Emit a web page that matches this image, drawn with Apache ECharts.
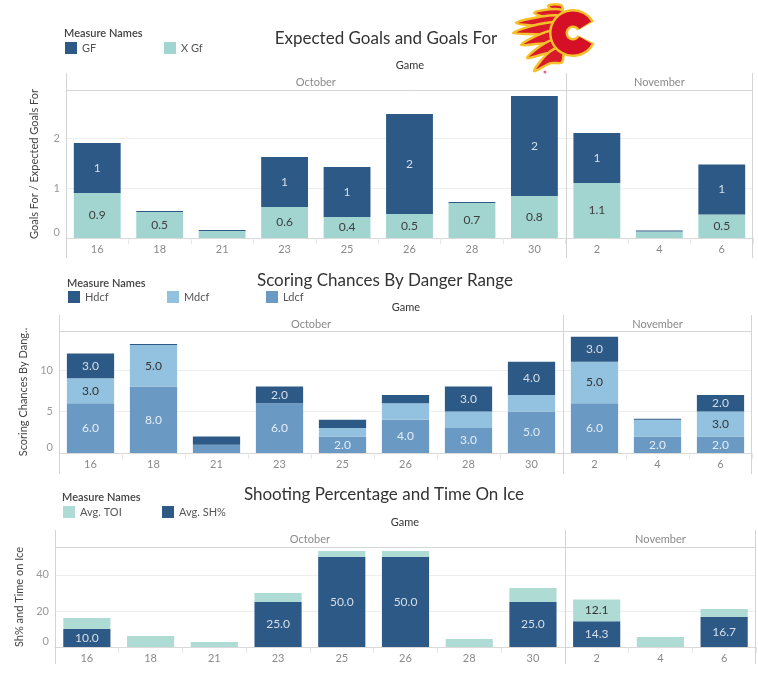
<!DOCTYPE html>
<html>
<head>
<meta charset="utf-8">
<script src="https://cdn.jsdelivr.net/npm/echarts@6/dist/echarts.min.js"></script>
<style>
  html, body { margin: 0; padding: 0; background: #fff; }
  #main { width: 758px; height: 700px; }
</style>
</head>
<body>
<div id="main"></div>
<script>
// games (day of month) and the month each belongs to
const games = ['16', '18', '21', '23', '25', '26', '28', '30', '2', '4', '6']
const months = ['October', 'November']
const gamesPerMonth = [8, 3]

// chart 1 - expected goals / goals for
const xGf = [0.9, 0.52, 0.14, 0.62, 0.42, 0.48, 0.7, 0.84, 1.1, 0.13, 0.47]
const gf = [1, 0, 0, 1, 1, 2, 0, 2, 1, 0, 1]

// chart 2 - scoring chances by danger range
const ldcf = [6, 8, 1, 6, 2, 4, 3, 5, 6, 2, 2]
const mdcf = [3, 5, 0, 0, 1, 2, 2, 2, 5, 2, 3]
const hdcf = [3, 0, 1, 2, 1, 1, 3, 4, 3, 0, 2]

// chart 3 - shooting % and time on ice
const avgSh = [10, 0, 0, 25, 50, 50, 0, 25, 14.3, 0, 16.7]
const avgToi = [6.1, 6.1, 2.8, 5, 3.3, 3.3, 4.4, 7.8, 12.1, 5.5, 4.4]

const FONT = 'Lato, "Open Sans", sans-serif'
const NAVY = '#2c5985'
const TEAL = '#a2d5d0'
const TEAL2 = '#aedcd4'
const MID = '#93c1e0'
const LOW = '#6a9ac4'
const LINE = '#d4d4d4'

// panel layout (pixels)
const panels = [
  { left: 66, right: 5, top: 90, height: 148, headTop: 73, foot: 258, max: 2.96, interval: 1,
    title: 'Expected Goals and Goals For', titleX: 386, titleY: 39, gameX: 410, gameY: 65,
    legendX: 64, legendY: 33, yName: 'Goals For / Expected Goals For', nameGap: 26 },
  { left: 59, right: 6, top: 331, height: 122, headTop: 315, foot: 474, max: 14.7, interval: 5,
    title: 'Scoring Chances By Danger Range', titleX: 385, titleY: 281, gameX: 406, gameY: 307,
    legendX: 67, legendY: 283, yName: 'Scoring Chances By Dang..', nameGap: 24 },
  { left: 55, right: 2, top: 547, height: 100, headTop: 530, foot: 664, max: 55.5, interval: 20,
    title: 'Shooting Percentage and Time On Ice', titleX: 384, titleY: 495, gameX: 405, gameY: 522,
    legendX: 62, legendY: 497, yName: 'Sh% and Time on Ice', nameGap: 29 }
]

const chart = echarts.init(document.getElementById('main'), null, { renderer: 'canvas' })

function txt(text, x, y, size, color, align, weight) {
  return {
    type: 'text', silent: true,
    style: {
      text: text, x: x, y: y, fill: color,
      font: (weight || 'normal') + ' ' + size + 'px ' + FONT,
      align: align || 'center', verticalAlign: 'middle',
      textAlign: align || 'center', textVerticalAlign: 'middle'
    }
  }
}
function ln(x1, y1, x2, y2, color) {
  return { type: 'line', silent: true, z: 10, shape: { x1: x1, y1: y1, x2: x2, y2: y2 },
    style: { stroke: color || LINE, lineWidth: 1 } }
}

function labelFmt(min, digits) {
  return p => (p.value >= min ? p.value.toFixed(digits) : '')
}

const grids = []
const xAxes = []
const yAxes = []
const graphics = []

panels.forEach((p, i) => {
  grids.push({ left: p.left, right: p.right, top: p.top, height: p.height })
  xAxes.push({
    type: 'category', gridIndex: i, data: games,
    axisLine: { lineStyle: { color: '#d9d9d9' } },
    axisTick: { show: true, length: 6, lineStyle: { color: '#e6e6e6' } },
    axisLabel: { color: '#8a8a8a', fontSize: 11, fontFamily: FONT, margin: 6 }
  })
  yAxes.push({
    type: 'value', gridIndex: i, min: 0, max: p.max, interval: p.interval,
    name: p.yName, nameLocation: 'middle', nameGap: p.nameGap, nameRotate: 90,
    nameTextStyle: { color: '#444', fontSize: 11, fontFamily: FONT },
    axisLine: { show: false }, axisTick: { show: false },
    axisLabel: {
      color: '#999', fontSize: 11, fontFamily: FONT, margin: 6, showMaxLabel: false,
      // tableau lifts the zero label off the baseline
      formatter: v => (v === 0 ? '{z|0}' : String(v)),
      rich: { z: { color: '#999', fontSize: 11, fontFamily: FONT, padding: [0, 0, 12, 0] } }
    },
    splitLine: { lineStyle: { color: '#eeeeee' } }
  })

  // header / frame lines
  const x0 = p.left + 0.5
  const x1 = 758 - p.right - 0.5
  const catW = (758 - p.right - p.left) / games.length
  graphics.push(ln(x0, p.headTop, x0, p.foot))
  graphics.push(ln(x1, p.headTop, x1, p.foot))
  graphics.push(ln(x0, p.top + 0.5, x1, p.top + 0.5))
  let start = 0
  months.forEach((m, k) => {
    const a = p.left + start * catW
    const b = a + gamesPerMonth[k] * catW
    graphics.push(txt(m, (a + b) / 2, (p.headTop + p.top) / 2 + 1, 11, '#8a8a8a'))
    if (k > 0) graphics.push(ln(Math.round(a) + 0.5, p.headTop, Math.round(a) + 0.5, p.foot))
    start += gamesPerMonth[k]
  })
  graphics.push(txt(p.title, p.titleX, p.titleY, 17, '#333'))
  graphics.push(txt('Game', p.gameX, p.gameY, 11, '#333'))
  graphics.push(txt('Measure Names', p.legendX, p.legendY, 11, '#444', 'left', '600'))
})

// one legend per item so the items sit on a fixed 99px pitch
const legends = []
function addLegend(names, x, y) {
  names.forEach((n, k) => {
    legends.push({
      data: [n], left: x + k * 99, top: y, icon: 'rect', itemWidth: 12, itemHeight: 12,
      selectedMode: false, padding: 0,
      textStyle: { color: '#555', fontSize: 11, fontFamily: FONT }
    })
  })
}
addLegend(['GF', 'X Gf'], 65, 42)
addLegend(['Hdcf', 'Mdcf', 'Ldcf'], 68, 291)
addLegend(['Avg. TOI', 'Avg. SH%'], 63, 506)

function bar(name, data, gridIdx, stack, color, labelColor, fmt, extra) {
  return Object.assign({
    name: name, type: 'bar', data: data, xAxisIndex: gridIdx, yAxisIndex: gridIdx,
    stack: stack, barWidth: '75%', itemStyle: { color: color },
    label: { show: true, position: 'inside', color: labelColor, fontSize: 12, fontFamily: FONT, formatter: fmt }
  }, extra || {})
}

// Calgary Flames style logo
const flameTips = [[48, 6], [34, 13], [16, 23], [13, 33], [21, 45], [27, 58], [34, 71]]
const logo = { type: 'group', x: 500, y: 0, silent: true, children: [] }
flameTips.forEach(t => {
  const bx = 62
  const by = 14 + (t[1] - 6) * 0.62
  const pts = [
    [bx, by - 8],
    [(bx + t[0]) / 2, by - 7 + (t[1] - by) * 0.35],
    [t[0], t[1]],
    [(bx + t[0]) / 2 + 3, by + 3 + (t[1] - by) * 0.35],
    [bx, by + 8]
  ]
  logo.children.push({ type: 'polygon', shape: { points: pts, smooth: 0.3 },
    style: { fill: '#d91a2a', stroke: '#f6c02a', lineWidth: 2.5 } })
})
logo.children.push({ type: 'arc', shape: { cx: 73, cy: 33, r: 14.5, startAngle: 0.45, endAngle: Math.PI * 2 - 0.5, clockwise: true },
  style: { fill: null, stroke: '#f6c02a', lineWidth: 19 } })
logo.children.push({ type: 'arc', shape: { cx: 73, cy: 33, r: 14.5, startAngle: 0.52, endAngle: Math.PI * 2 - 0.57, clockwise: true },
  style: { fill: null, stroke: '#d50f25', lineWidth: 14 } })
logo.children.push({ type: 'circle', shape: { cx: 45, cy: 72, r: 1.5 }, style: { fill: '#e06a80' } })
graphics.push(logo)

chart.setOption({
  backgroundColor: '#fff',
  animation: false,
  grid: grids,
  xAxis: xAxes,
  yAxis: yAxes,
  legend: legends,
  series: [
    bar('X Gf', xGf, 0, 'g1', TEAL, '#3d3d3d', labelFmt(0.3, 1)),
    bar('GF', gf, 0, 'g1', NAVY, '#d6dfea', labelFmt(1, 0), { barMinHeight: 1 }),
    bar('Ldcf', ldcf, 1, 'g2', LOW, '#e4ecf4', labelFmt(2, 1)),
    bar('Mdcf', mdcf, 1, 'g2', MID, '#333', labelFmt(3, 1)),
    bar('Hdcf', hdcf, 1, 'g2', NAVY, '#d6dfea', labelFmt(2, 1), { barMinHeight: 1 }),
    bar('Avg. SH%', avgSh, 2, 'g3', NAVY, '#d6dfea', labelFmt(1, 1), { barWidth: '74%' }),
    bar('Avg. TOI', avgToi, 2, 'g3', TEAL2, '#333', labelFmt(10, 1), { barWidth: '74%' })
  ],
  graphic: graphics
})
</script>
</body>
</html>
